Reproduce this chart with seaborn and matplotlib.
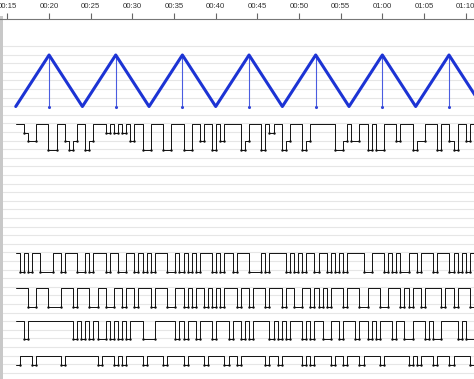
import numpy as np
import pandas as pd
import matplotlib
matplotlib.use("Agg")
import matplotlib.pyplot as plt
import seaborn as sns
from matplotlib.ticker import FixedLocator, FuncFormatter

# ---------------- data ----------------
tick_seconds = [15, 20, 25, 30, 35, 40, 45, 50, 55, 60, 65, 70]

tri_times = [16, 20, 24, 28, 32, 36, 40, 44, 48, 52, 56, 60, 64, 68, 72]
tri_values = [0, 100, 0, 100, 0, 100, 0, 100, 0, 100, 0, 100, 0, 100, 0]
peak_times = [20, 28, 36, 44, 52, 60, 68]

ch1 = "3321133300331013301333232323133003330033300331330313333013330323301333013333330013113303003331333011333033103313"
ch2 = "3030330003303330030333033003303030333003030303330303303330003033330303033033030303333003330303003303330333030303"
ch3 = "3330033300033303330033003303303330333003303033030303330330333033303300330303033303330033300333030330333303303330"
ch4 = "3303333333333303030300303030333000333330303303330333033030333303030333030330033033303303033303300333030033330300"
ch5 = "0333033333303333333303330303333033330333303333033330330333333033033333030333303303330333303333330303330333033330"
channels = [ch1, ch2, ch3, ch4, ch5]
sig_start, sig_end = 16.0, 71.0

# ---------------- layout (rows in figure pixels, top = 19) ----------------
tri_band = (55, 106.5)
chan_bands = [(124, 150), (253, 272), (288, 307), (321, 339), (356, 365)]

fig = plt.figure(figsize=(4.74, 3.79), dpi=100)
sns.set_style("white")
plt.rcParams["font.family"] = ["Liberation Sans", "DejaVu Sans"]
ax = fig.add_axes([0, 0, 1, 360 / 379])
ax.set_xlim(14.11, 71.0)
ax.set_ylim(379, 19)

for r in np.arange(46, 379, 8.6):
    ax.axhline(r, color="#e6e6e6", lw=0.8, zorder=0)

def row(v, band, vmax):
    top, bot = band
    return bot - (np.asarray(v, float) / vmax) * (bot - top)

# triangle
tri_df = pd.DataFrame({"t": tri_times, "y": row(tri_values, tri_band, 100)})
sns.lineplot(data=tri_df, x="t", y="y", ax=ax, color="#1c33d4", lw=2.2,
             estimator=None, sort=False, zorder=3)
pk_top = row([100] * len(peak_times), tri_band, 100)
pk_bot = row([0] * len(peak_times), tri_band, 100)
ax.vlines(peak_times, pk_top, pk_bot, color="#4a5ce0", lw=0.8, zorder=2)
sns.scatterplot(x=peak_times, y=pk_bot, ax=ax, color="#3346d8", s=5,
                linewidth=0, zorder=3)

# digital channels
for s, band in zip(channels, chan_bands):
    vals = np.array([int(c) for c in s], float)
    edges = np.linspace(sig_start, sig_end, len(vals) + 1)
    xs = np.append(edges[:-1], edges[-1])
    ys = row(np.append(vals, vals[-1]), band, 3)
    df = pd.DataFrame({"t": xs, "y": ys})
    sns.lineplot(data=df, x="t", y="y", ax=ax, color="#111111", lw=0.7,
                 drawstyle="steps-post", estimator=None, sort=False, zorder=3)
    ch = np.nonzero(np.diff(vals))[0] + 1
    mt = edges[ch]
    mv = np.minimum(vals[ch - 1], vals[ch])
    sns.scatterplot(x=mt, y=row(mv, band, 3), ax=ax, color="#111111", s=3,
                    linewidth=0, zorder=4)

ax.set_xlabel("")
ax.set_ylabel("")
ax.set_yticks([])
ax.xaxis.tick_top()
ax.xaxis.set_major_locator(FixedLocator(tick_seconds))
ax.xaxis.set_major_formatter(FuncFormatter(lambda v, p: f"{int(v)//60:02d}:{int(v)%60:02d}"))
ax.tick_params(axis="x", direction="out", length=4, width=0.8, color="#666666",
               labelsize=5.6, labelcolor="#333333", pad=2.5)
for side in ["right", "bottom"]:
    ax.spines[side].set_visible(False)
ax.spines["top"].set_color("#777777")
ax.spines["top"].set_linewidth(0.8)
ax.spines["left"].set_color("#c8c8c8")
ax.spines["left"].set_linewidth(4.3)

fig.savefig("out.png", dpi=100)
